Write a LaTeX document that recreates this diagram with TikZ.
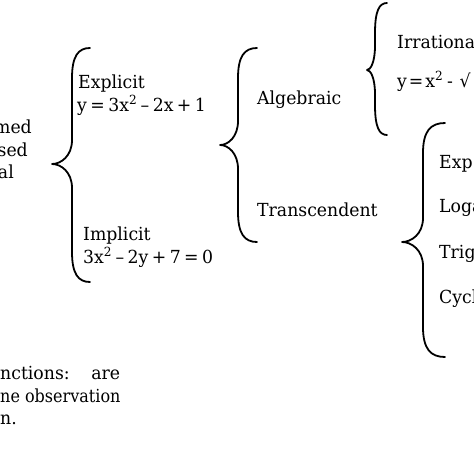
\documentclass[tikz,border=0pt]{standalone}
\usepackage{graphicx}
\usepackage{fontspec}
\setmainfont{DejaVu Serif}
\newcommand\W[1]{\scalebox{0.96}[1]{#1}}
\newcommand\F[1]{\W{\spaceskip=0.2em\relax #1}}
\newcommand\mybrc[6]{%
  \draw[bracestyle] (#3,#4) .. controls ({#2+0.35*(#3-#2)},#4) and (#2,{#4+8}) .. (#2,{#4+30})
    -- (#2,{#5-24}) .. controls (#2,{#5-8}) and ({#1+0.45*(#2-#1)},#5) .. (#1,#5)
    .. controls ({#1+0.45*(#2-#1)},#5) and (#2,{#5+8}) .. (#2,{#5+24})
    -- (#2,{#6-30}) .. controls (#2,{#6-8}) and ({#2+0.35*(#3-#2)},#6) .. (#3,#6);}
\begin{document}
\begin{tikzpicture}[x=1pt,y=-1pt,
  bracestyle/.style={line width=1.8pt,line cap=round,line join=round},
  txt/.style={inner sep=0pt,font=\fontsize{18}{21}\selectfont}]
\useasboundingbox (0,0) rectangle (474,474);
\fill[white] (0,0) rectangle (474,474);
\clip (0,0) rectangle (474,474);
% left fragment
\node[txt,anchor=base east] (l1) at (32,133) {\W{med}};
\node[txt,anchor=base east] (l2) at (28,156) {\W{sed}};
\node[txt,anchor=base east] (l3) at (14,178) {\W{al}};
% brace 1
\mybrc{52}{72}{90}{48}{164}{282}
\node[txt,anchor=base west] (ex) at (78,88) {\W{Explicit}};
\node[txt,anchor=base west] (exf) at (77,111) {\F{y = 3x\textsuperscript{2} – 2x + 1}};
\node[txt,anchor=base west] (im) at (83,240) {\W{Implicit}};
\node[txt,anchor=base west] (imf) at (83,263) {\F{3x\textsuperscript{2} – 2y + 7 = 0}};
% brace 2
\mybrc{220}{238}{257}{48}{145}{242}
\node[txt,anchor=base west] (alg) at (257,104) {\W{Algebraic}};
\node[txt,anchor=base west] (tra) at (257,216) {\W{Transcendent}};
% brace 3
\mybrc{367}{375}{387}{3}{70}{135}
\node[txt,anchor=base west] (irr) at (397,48) {\W{Irrationa}};
\node[txt,anchor=base west] (irf) at (397,87) {\W{y\hspace{2pt}=\hspace{2pt}x\textsuperscript{2}\hspace{4pt}-\hspace{7pt}√}};
% brace 4
\mybrc{402}{423}{445}{123}{242}{357}
\node[txt,anchor=base west] (t1) at (439,168) {\W{Exp}};
\node[txt,anchor=base west] (t2) at (439,212) {\W{Loga}};
\node[txt,anchor=base west] (t3) at (439,258) {\W{Trig}};
\node[txt,anchor=base west] (t4) at (439,303) {\W{Cycl}};
% bottom fragment
\node[txt,anchor=base west] (b1) at (0,379) {\hbox to 120pt{\W{nctions:}\hfill\W{are}}};
\node[txt,anchor=base west] (b2) at (0,402) {\scalebox{0.89}[1]{ne observation}};
\node[txt,anchor=base west] (b3) at (0,424) {\W{n.}};
\end{tikzpicture}
\end{document}
